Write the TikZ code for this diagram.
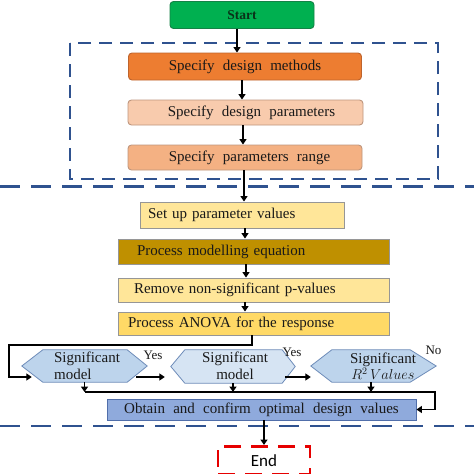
\documentclass[tikz,border=0pt]{standalone}
\usepackage{fontspec}
\setmainfont{Liberation Serif}[WordSpace=2.2]
\newfontfamily\calfont{Carlito}
\usetikzlibrary{arrows.meta}
\definecolor{dashblue}{RGB}{47,82,143}
\definecolor{startgreen}{RGB}{0,176,80}
\definecolor{startborder}{RGB}{20,130,70}
\definecolor{orangeA}{RGB}{237,125,49}
\definecolor{orangeAb}{RGB}{190,100,45}
\definecolor{peachB}{RGB}{248,203,173}
\definecolor{peachC}{RGB}{244,177,131}
\definecolor{peachb}{RGB}{190,150,125}
\definecolor{yellowA}{RGB}{255,230,153}
\definecolor{goldB}{RGB}{191,144,0}
\definecolor{yellowC}{RGB}{255,217,102}
\definecolor{boxgray}{RGB}{150,150,150}
\definecolor{hexA}{RGB}{189,212,236}
\definecolor{hexB}{RGB}{214,228,243}
\definecolor{hexline}{RGB}{110,140,185}
\definecolor{obtainfill}{RGB}{143,170,220}
\definecolor{obtainline}{RGB}{80,110,170}
\definecolor{txt}{RGB}{25,25,25}
\definecolor{endred}{RGB}{230,0,0}
\newcommand\myhexagon[4]{%
  \draw[hexstyle, fill=#4] (#1.west) -- ([shift={(#2,0)}]#1.north west) -- ([shift={(-#3,0)}]#1.north east) -- (#1.east) -- ([shift={(-#3,0)}]#1.south east) -- ([shift={(#2,0)}]#1.south west) -- cycle;}
\begin{document}
\begin{tikzpicture}[x=1pt,y=-1pt,
  flow/.style={rectangle, inner ysep=0pt, inner xsep=0pt, text=txt, font=\fontsize{15}{17}\selectfont, line width=0.9pt},
  rbox/.style={flow, rounded corners=3.5pt},
  hexbox/.style={rectangle, inner sep=0pt, draw=none},
  hexstyle/.style={draw=hexline, line width=0.8pt},
  hextext/.style={text=txt, font=\fontsize{15}{16.5}\selectfont, inner sep=0pt},
  lab/.style={text=txt, font=\fontsize{13}{15}\selectfont, inner sep=0pt},
  arr/.style={draw=black, line width=1.8pt, -{Triangle[length=5.5pt,width=7pt]}},
  dashbox/.style={draw=dashblue, line width=2.4pt, dash pattern=on 13pt off 8pt},
  dashline/.style={draw=dashblue, line width=2.6pt, dash pattern=on 20pt off 11pt},
  endbox/.style={draw=endred, line width=2.8pt, dash pattern=on 17pt off 10pt, fill=white, inner sep=0pt, font=\calfont\fontsize{17}{19}\selectfont}
]
\clip (0,0) rectangle (474,474);
\fill[white] (0,0) rectangle (474,474);

% frames and separators
\draw[dashbox] (70,43) rectangle (438,179);
\draw[dashline] (0,186.5) -- (474,186.5);
\draw[dashline] (0,426) -- (474,426);

% upper boxes
\node[rbox, fill=startgreen, draw=startborder, minimum width=144pt, minimum height=27pt, font=\bfseries\fontsize{13.5}{15}\selectfont, text={rgb,255:red,10;green,50;blue,25}] (start) at (242,15) {Start};
\node[rbox, fill=orangeA, draw=orangeAb, minimum width=233pt, minimum height=27pt] (methods) at (245,66.5) {Specify design methods};
\node[rbox, fill=peachB, draw=peachb, minimum width=235pt, minimum height=25pt] (params) at (245.5,112.5) {\hspace*{12pt}Specify design parameters};
\node[rbox, fill=peachC, draw=peachb, minimum width=234pt, minimum height=25pt] (range) at (245,157.5) {\hspace*{9pt}Specify parameters range};

% middle boxes
\node[flow, fill=yellowA, draw=boxgray, inner xsep=8pt, text width=188pt, align=left, minimum height=26pt] (setup) at (242,215) {Set up parameter values};
\node[flow, fill=goldB, draw=boxgray, inner xsep=19pt, text width=233pt, align=left, minimum height=25pt] (model) at (253.5,251.5) {Process modelling equation};
\node[flow, fill=yellowA, draw=boxgray, inner xsep=16pt, text width=239pt, align=left, minimum height=24pt] (remove) at (253.5,290) {Remove non-significant p-values};
\node[flow, fill=yellowC, draw=boxgray, inner xsep=10pt, text width=251pt, align=left, minimum height=23pt] (anova) at (253.5,323.5) {Process ANOVA for the response};

% hexagons
\node[hexbox, minimum width=125pt, minimum height=32pt] (h1) at (84.5,366) {};
\node[hexbox, minimum width=124pt, minimum height=33pt] (h2) at (233,366.5) {};
\node[hexbox, minimum width=125pt, minimum height=32pt] (h3) at (373.5,366) {};
\myhexagon{h1}{21}{20}{hexA}
\myhexagon{h2}{14}{13}{hexB}
\myhexagon{h3}{21}{26}{hexA}
\node[hextext, align=left] (h1t) at (87,366) {Significant\\model};
\node[hextext, align=center] (h2t) at (235,366) {Significant\\model};
\node[hextext, align=center] (h3t) at (383,366) {Significant\\{\fontsize{14}{16}\selectfont$R^{2}\,Values$}};

\node[lab] (yes1) at (153,355) {Yes};
\node[lab] (yes2) at (292,352) {Yes};
\node[lab] (no) at (433.5,350) {No};

% lower boxes
\node[flow, fill=obtainfill, draw=obtainline, minimum width=309pt, minimum height=21pt] (obtain) at (261.5,409.5) {Obtain and confirm optimal design values};
\node[endbox, minimum width=92pt, minimum height=28pt, anchor=north] (end) at (264,445) {End};

% connectors
\draw[arr] ([shift={(-5,0)}]start.south) -- ([shift={(-8,0)}]methods.north);
\draw[arr] ([shift={(-3,0)}]methods.south) -- ([shift={(-3.5,0)}]params.north);
\draw[arr] ([shift={(-2.5,0)}]params.south) -- ([shift={(-2,0)}]range.north);
\draw[arr] ([shift={(-1,0)}]range.south) -- ([shift={(2,0)}]setup.north);
\draw[arr] ([shift={(3,0)}]setup.south) -- ([shift={(-8.5,0)}]model.north);
\draw[arr] ([shift={(-7.5,0)}]model.south) -- ([shift={(-7.5,0)}]remove.north);
\draw[arr] ([shift={(-8.5,0)}]remove.south) -- ([shift={(-8.5,0)}]anova.north);

\coordinate (fb) at (9,345);
\draw[arr] ([shift={(-1.5,0)}]anova.south) |- (fb) |- ([shift={(10,11)}]h1.west);
\draw[arr] ([shift={(-11,11)}]h1.east) -- ([shift={(-6,10.5)}]h2.west);
\draw[arr] ([shift={(-10,10.5)}]h2.east) -- ([shift={(0,11)}]h3.west);

\coordinate (jr) at (435,392);
\draw[arr] (h1.south) -- (h1.south |- jr);
\draw[arr] (h2.south) -- (h2.south |- jr);
\draw[arr] ([shift={(-2.5,0)}]h3.south) -- ([shift={(-2.5,0)}]h3.south |- jr);
\draw[arr] (h1.south |- jr) -- (jr) |- (obtain.east);
\draw[arr] (obtain.south -| end.north) -- (end.north);
\end{tikzpicture}
\end{document}
